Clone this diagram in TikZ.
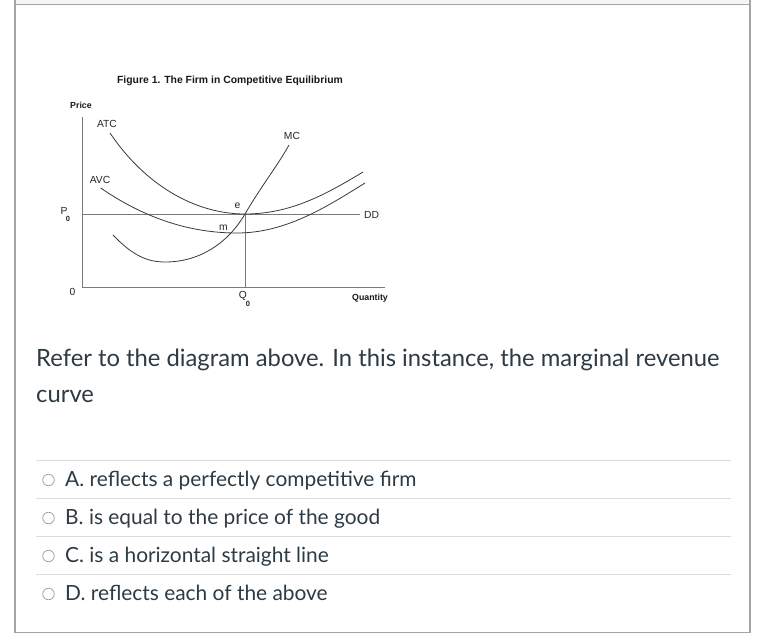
\documentclass[tikz,border=0pt]{standalone}
\usepackage{fontspec}
\setmainfont{Lato}
\newfontfamily\arial{Liberation Sans}
\definecolor{txt}{HTML}{2D3B45}
\definecolor{frame}{HTML}{A5A5A5}
\definecolor{sep}{HTML}{DCDCDC}
\definecolor{band}{HTML}{F5F5F5}
\definecolor{axis}{HTML}{7A7A7A}
\definecolor{curve}{HTML}{3A3A3A}
\begin{document}
\begin{tikzpicture}[x=1pt,y=-1pt,
  lbl/.style={font=\arial\fontsize{10.3}{12}\selectfont, inner sep=0pt, text=black!85},
  sub/.style={font=\arial\bfseries\fontsize{7.5}{8}\selectfont, inner sep=0pt, text=black!85},
  blbl/.style={font=\arial\bfseries\fontsize{8.8}{10}\selectfont, inner sep=0pt, text=black!90},
  ttl/.style={font=\arial\bfseries\fontsize{10.4}{12}\selectfont, inner sep=0pt, text=black!90},
  qtext/.style={font=\fontsize{23.8}{28}\selectfont, text=txt, inner sep=0pt, anchor=base west},
  opt/.style={font=\fontsize{20.9}{25}\selectfont, text=txt, inner sep=0pt, anchor=base west},
  radio/.style={circle, draw=gray!80, line width=0.7pt, minimum size=11.5pt, inner sep=0pt},
  ax/.style={draw=axis, line width=1pt},
  cv/.style={draw=curve, line width=0.8pt},
  sepline/.style={draw=sep, line width=1pt}]
\useasboundingbox (0,0) rectangle (766,643);
\fill[white] (0,0) rectangle (766,643);
\fill[band] (15,0) rectangle (750,4.3);
\draw[frame, line width=1.2pt] (15,0) -- (15,632.3) -- (750,632.3) -- (750,0);
\draw[frame, line width=1.2pt] (15,4.3) -- (750,4.3);

% diagram
\node[ttl] (title) at (230,80.5) {Figure 1. The Firm in Competitive Equilibrium};
\node[blbl] (price) at (81,105.5) {Price};
\coordinate (ytop) at (82,117);
\coordinate (org) at (82,287);
\coordinate (xend) at (385,287);
\draw[ax] (ytop) -- (org) -- (xend);
\coordinate (pl) at (82,214);
\coordinate (e) at (245,214);
\coordinate (pr) at (360,214);
\coordinate (qb) at (245,287);
\draw[ax] (pl) -- (pr);
\draw[ax] (e) -- (qb);
\node[lbl] (zero) at (72.5,292) {0};
\node[lbl] (P) at (64,211) {P};
\node[sub] (Psub) at (68,219) {0};
\node[lbl] (Q) at (243,296) {Q};
\node[sub] (Qsub) at (248,303.5) {0};
\node[blbl] (qty) at (370,298.5) {Quantity};
\node[lbl] (DD) at (371.5,214.5) {DD};
\node[lbl] (ATC) at (107,124) {ATC};
\node[lbl] (AVC) at (100,180) {AVC};
\node[lbl] (MC) at (292,136) {MC};
\node[lbl] (elab) at (237.5,206) {e};
\node[lbl] (mlab) at (223.5,228) {m};

% ATC
\draw[cv] (110,133) .. controls (145,185) and (195,214) .. (245,214)
  .. controls (290,214) and (325,195) .. (363,172);
% AVC
\draw[cv] (100.7,188) .. controls (140,215) and (185,233) .. (237,233)
  .. controls (285,233) and (325,208) .. (365,183);
% MC
\draw[cv] (113,235) .. controls (133,256) and (148,262) .. (165,262)
  .. controls (200,262) and (228,243) .. (245,214)
  .. controls (262,185) and (278,165) .. (289,145);

% question
\node[qtext] (q1) at (36,366.7) {Refer to the diagram above. In this instance, the marginal revenue};
\node[qtext] (q2) at (36,402.5) {curve};

\draw[sepline] (36,460.5) -- (731,460.5);
\draw[sepline] (36,498.5) -- (731,498.5);
\draw[sepline] (36,536.5) -- (731,536.5);
\draw[sepline] (36,574.5) -- (731,574.5);

\node[radio] (ra) at (48.5,480) {};
\node[radio] (rb) at (48.5,518) {};
\node[radio] (rc) at (48.5,556) {};
\node[radio] (rd) at (48.5,594) {};
\node[opt] (oa) at (65,486) {A. reflects a perfectly competitive firm};
\node[opt] (ob) at (65,524) {B. is equal to the price of the good};
\node[opt] (oc) at (65,562) {C. is a horizontal straight line};
\node[opt] (od) at (65,600) {D. reflects each of the above};
\end{tikzpicture}
\end{document}
